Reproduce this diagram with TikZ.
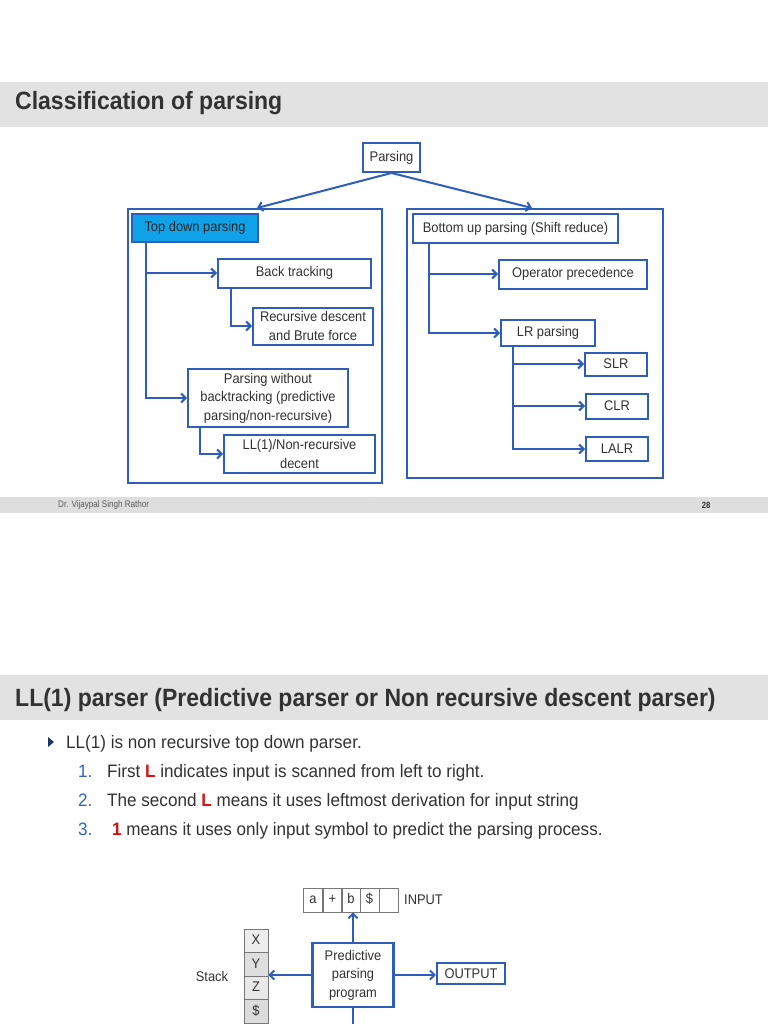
\documentclass[tikz,border=0pt]{standalone}
\usepackage{fontspec}
\setmainfont{Liberation Sans}[FakeStretch=0.95]
\newfontfamily\titlefont{Liberation Sans}[FakeStretch=0.92]
\newfontfamily\boxfont{Liberation Sans}[FakeStretch=0.92]
\newfontfamily\footfont{Liberation Sans}[FakeStretch=0.85]
\usetikzlibrary{arrows.meta}
\definecolor{lineblue}{RGB}{47,93,186}
\definecolor{tdfill}{RGB}{16,162,232}
\definecolor{txt}{RGB}{50,50,50}
\definecolor{bargray}{RGB}{226,226,226}
\definecolor{footgray}{RGB}{222,222,222}
\definecolor{numblue}{RGB}{50,100,190}
\definecolor{redL}{RGB}{210,20,20}
\definecolor{cellgray}{RGB}{120,120,120}
\definecolor{bulletnavy}{RGB}{30,55,100}
\newcommand{\nodefont}{\boxfont\fontsize{14}{18.5}\selectfont}
\newcommand{\bodyfont}{\fontsize{18}{22}\selectfont}
\tikzset{
  box/.style={draw=lineblue, line width=2pt, inner sep=0pt, align=center, text=txt, font=\nodefont},
  frame/.style={draw=lineblue, line width=2pt, inner sep=0pt},
  conn/.style={draw=lineblue, line width=2pt, -{Straight Barb[length=4.5pt,width=9pt]}},
  plain/.style={draw=lineblue, line width=2pt},
  cell/.style={draw=cellgray, line width=0.8pt, inner sep=0pt, text=txt, font=\nodefont, text height=10pt, text depth=3pt},
  bodytext/.style={anchor=base west, inner sep=0pt, text=txt, font=\bodyfont},
}
\begin{document}
\begin{tikzpicture}[x=1pt,y=-1pt]
\useasboundingbox (0,0) rectangle (768,1024);
\fill[white] (0,0) rectangle (768,1024);
% ---------- slide 1 ----------
\fill[bargray] (0,82) rectangle (768,127);
\node[anchor=base west, inner sep=0pt, text=txt, font=\titlefont\bfseries\fontsize{25}{30}\selectfont] (t1) at (15,110) {Classification of parsing};

\node[box, minimum width=57pt, minimum height=29pt] (parsing) at (391.5,157.5) {Parsing};
\node[frame, minimum width=254pt, minimum height=274pt] (leftbox) at (255,346) {};
\node[frame, minimum width=256pt, minimum height=269pt] (rightbox) at (535,343.5) {};
\node[box, fill=tdfill, text=black!85, minimum width=126pt, minimum height=28pt] (td) at (195,228) {Top down parsing};
\node[box, minimum width=153pt, minimum height=29pt] (bt) at (294.5,273) {Back tracking};
\node[box, minimum width=120pt, minimum height=37pt] (rd) at (313,326) {Recursive descent\\and Brute force};
\node[box, minimum width=160pt, minimum height=58pt] (pw) at (268,398) {Parsing without\\backtracking (predictive\\parsing/non-recursive)};
\node[box, minimum width=151pt, minimum height=38pt] (ll) at (299.5,454) {LL(1)/Non-recursive\\decent};
\node[box, minimum width=205pt, minimum height=29pt] (bu) at (515.5,228.5) {Bottom up parsing (Shift reduce)};
\node[box, minimum width=148pt, minimum height=29pt] (op) at (573,274) {Operator precedence};
\node[box, minimum width=94pt, minimum height=26pt] (lr) at (548,333) {LR parsing};
\node[box, minimum width=62pt, minimum height=23pt] (slr) at (616,364) {SLR};
\node[box, minimum width=62pt, minimum height=25pt] (clr) at (617,406) {CLR};
\node[box, minimum width=62pt, minimum height=24pt] (lalr) at (617,449) {LALR};

\draw[conn] (parsing.south) -- ([xshift=2pt]leftbox.north);
\draw[conn] (parsing.south) -- ([xshift=-3pt]rightbox.north);
\draw[conn] ([xshift=-49pt]td.south) |- (bt.west);
\draw[conn] ([xshift=-49pt]td.south) |- (pw.west);
\draw[conn] ([xshift=-63.5pt]bt.south) |- (rd.west);
\draw[conn] ([xshift=-68pt]pw.south) |- (ll.west);
\draw[conn] ([xshift=-86.5pt]bu.south) |- (op.west);
\draw[conn] ([xshift=-86.5pt]bu.south) |- (lr.west);
\draw[conn] ([xshift=-35pt]lr.south) |- (slr.west);
\draw[conn] ([xshift=-35pt]lr.south) |- (clr.west);
\draw[conn] ([xshift=-35pt]lr.south) |- (lalr.west);

% footer
\fill[footgray] (0,497) rectangle (768,513);
\node[anchor=west, inner sep=0pt, text=black!65, font=\footfont\fontsize{9.5}{11}\selectfont] (author) at (58,505) {Dr. Vijaypal Singh Rathor};
\node[inner sep=0pt, text=black!80, font=\footfont\bfseries\fontsize{9}{11}\selectfont] (pageno) at (706,505) {28};

% ---------- slide 2 ----------
\fill[bargray] (0,675) rectangle (768,720);
\node[anchor=base west, inner sep=0pt, text=txt, font=\titlefont\bfseries\fontsize{25}{30}\selectfont] (t2) at (15,706) {LL(1) parser (Predictive parser or Non recursive descent parser)};

\fill[bulletnavy] (48,737) -- (54,742) -- (48,747) -- cycle;
\node[bodytext] (b0) at (66,748) {LL(1) is non recursive top down parser.};
\node[bodytext, text=numblue] (n1) at (78,777) {1.};
\node[bodytext] (b1) at (107,777) {First {\color{redL}\bfseries L} indicates input is scanned from left to right.};
\node[bodytext, text=numblue] (n2) at (78,806) {2.};
\node[bodytext] (b2) at (107,806) {The second {\color{redL}\bfseries L} means it uses leftmost derivation for input string};
\node[bodytext, text=numblue] (n3) at (78,835) {3.};
\node[bodytext] (b3) at (112,835) {{\color{redL}\bfseries 1} means it uses only input symbol to predict the parsing process.};

% input tape
\node[cell, minimum width=19pt, minimum height=24pt] (c1) at (313,900) {a};
\node[cell, minimum width=19pt, minimum height=24pt] (c2) at (332.5,900) {+};
\node[cell, minimum width=19pt, minimum height=24pt] (c3) at (351,900) {b};
\node[cell, minimum width=19pt, minimum height=24pt] (c4) at (369.5,900) {\$};
\node[cell, minimum width=19pt, minimum height=24pt] (c5) at (388.5,900) {};
\node[anchor=west, inner sep=0pt, text=txt, font=\nodefont] (inp) at (404,900) {INPUT};

% stack
\node[cell, fill=black!7, minimum width=24pt, minimum height=23.5pt] (sx) at (256,941) {X};
\node[cell, fill=black!13, minimum width=24pt, minimum height=23.5pt] (sy) at (256,964.5) {Y};
\node[cell, fill=black!9, minimum width=24pt, minimum height=23.5pt] (sz) at (256,988) {Z};
\node[cell, fill=black!14, minimum width=24pt, minimum height=23.5pt] (sd) at (256,1011.5) {\$};
\node[inner sep=0pt, text=txt, font=\nodefont] (stk) at (212,976) {Stack};

\node[box, line width=2.2pt, minimum width=81pt, minimum height=64pt] (ppp) at (353,975) {Predictive\\parsing\\program};
\node[box, line width=2.2pt, minimum width=68pt, minimum height=21pt] (out) at (471,973.5) {OUTPUT};
\coordinate (bot) at (353,1024);

\draw[conn] (ppp.north) -- (ppp.north |- c3.south);
\draw[conn] (ppp.west) -- (ppp.west -| sy.east);
\draw[conn] (ppp.east) -- (ppp.east -| out.west);
\draw[plain] (ppp.south) -- (bot);
\end{tikzpicture}
\end{document}
